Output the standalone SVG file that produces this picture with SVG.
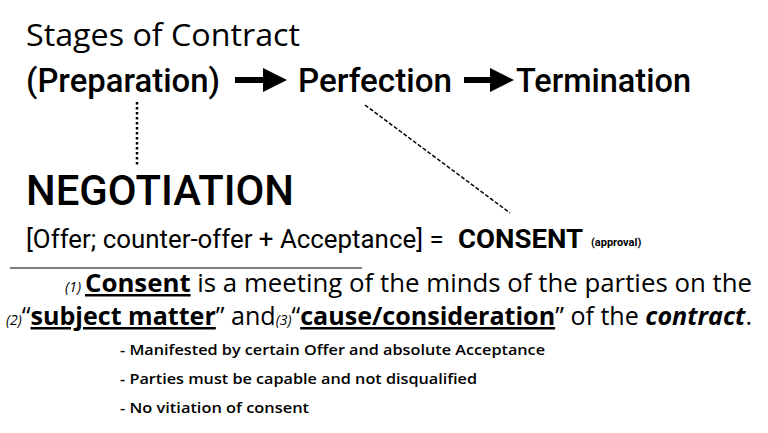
<svg xmlns="http://www.w3.org/2000/svg" width="768" height="433" viewBox="0 0 768 433">
<style>
text{font-family:"Open Sans","Liberation Sans",sans-serif;fill:#000}
.n{font-family:Roboto,"Liberation Sans",sans-serif;font-weight:500}
.b{font-weight:bold}
.i{font-style:italic}
</style>
<defs><marker id="ah" markerWidth="4" markerHeight="4" refX="2" refY="2" orient="auto"><path d="M0,0L4,2L0,4z" fill="#000"/></marker></defs>
<rect width="768" height="433" fill="#fff"/>
<g id="title"><text x="26" y="46" font-size="31" textLength="274" lengthAdjust="spacingAndGlyphs">Stages of Contract</text></g>
<g id="preparation"><text class="n" x="26" y="92" font-size="33" textLength="194" lengthAdjust="spacingAndGlyphs">(Preparation)</text></g>
<g id="perfection"><text class="n" x="298" y="92" font-size="33" textLength="154" lengthAdjust="spacingAndGlyphs">Perfection</text></g>
<g id="termination"><text class="n" x="516" y="92" font-size="33" textLength="175" lengthAdjust="spacingAndGlyphs">Termination</text></g>
<g id="negotiation"><text class="n" x="26" y="205" font-size="42" textLength="268" lengthAdjust="spacingAndGlyphs">NEGOTIATION</text>
<text x="26" y="248" font-size="25" style="font-family:Roboto,'Liberation Sans',sans-serif"><tspan textLength="424" lengthAdjust="spacingAndGlyphs">[Offer; counter-offer + Acceptance] = </tspan><tspan class="b" x="458" textLength="125" lengthAdjust="spacingAndGlyphs">CONSENT</tspan><tspan class="b" x="591" y="246" font-size="11">(approval)</tspan></text></g>
<g id="connectors" stroke="#000" fill="none">
<path d="M235,80H275" stroke-width="6" marker-end="url(#ah)"/>
<path d="M464,80H502" stroke-width="6" marker-end="url(#ah)"/>
<path d="M137,102V165" stroke-width="2.5" stroke-dasharray="2.5,2.5"/>
<path d="M365,105L510,213" stroke-width="1.5" stroke-dasharray="4,2"/>
<path d="M10,268H362" stroke-width="1"/>
</g>
<g id="definition">
<text x="65" y="292" font-size="25" textLength="687" lengthAdjust="spacingAndGlyphs"><tspan class="i" font-size="14">(1) </tspan><tspan class="b" text-decoration="underline">Consent</tspan><tspan> is a meeting of the minds of the parties on the</tspan></text>
<text x="6" y="325" font-size="25" textLength="746" lengthAdjust="spacingAndGlyphs"><tspan class="i" font-size="14">(2)</tspan><tspan>“</tspan><tspan class="b" text-decoration="underline">subject matter</tspan><tspan>” and</tspan><tspan class="i" font-size="14">(3)</tspan><tspan>“</tspan><tspan class="b" text-decoration="underline">cause/consideration</tspan><tspan>” of the </tspan><tspan class="b i">contract</tspan><tspan>.</tspan></text>
</g>
<g id="bullets" font-size="15" font-weight="600">
<text x="120" y="355" textLength="425" lengthAdjust="spacingAndGlyphs">- Manifested by certain Offer and absolute Acceptance</text>
<text x="120" y="384" textLength="357" lengthAdjust="spacingAndGlyphs">- Parties must be capable and not disqualified</text>
<text x="120" y="413" textLength="189" lengthAdjust="spacingAndGlyphs">- No vitiation of consent</text>
</g>
</svg>
